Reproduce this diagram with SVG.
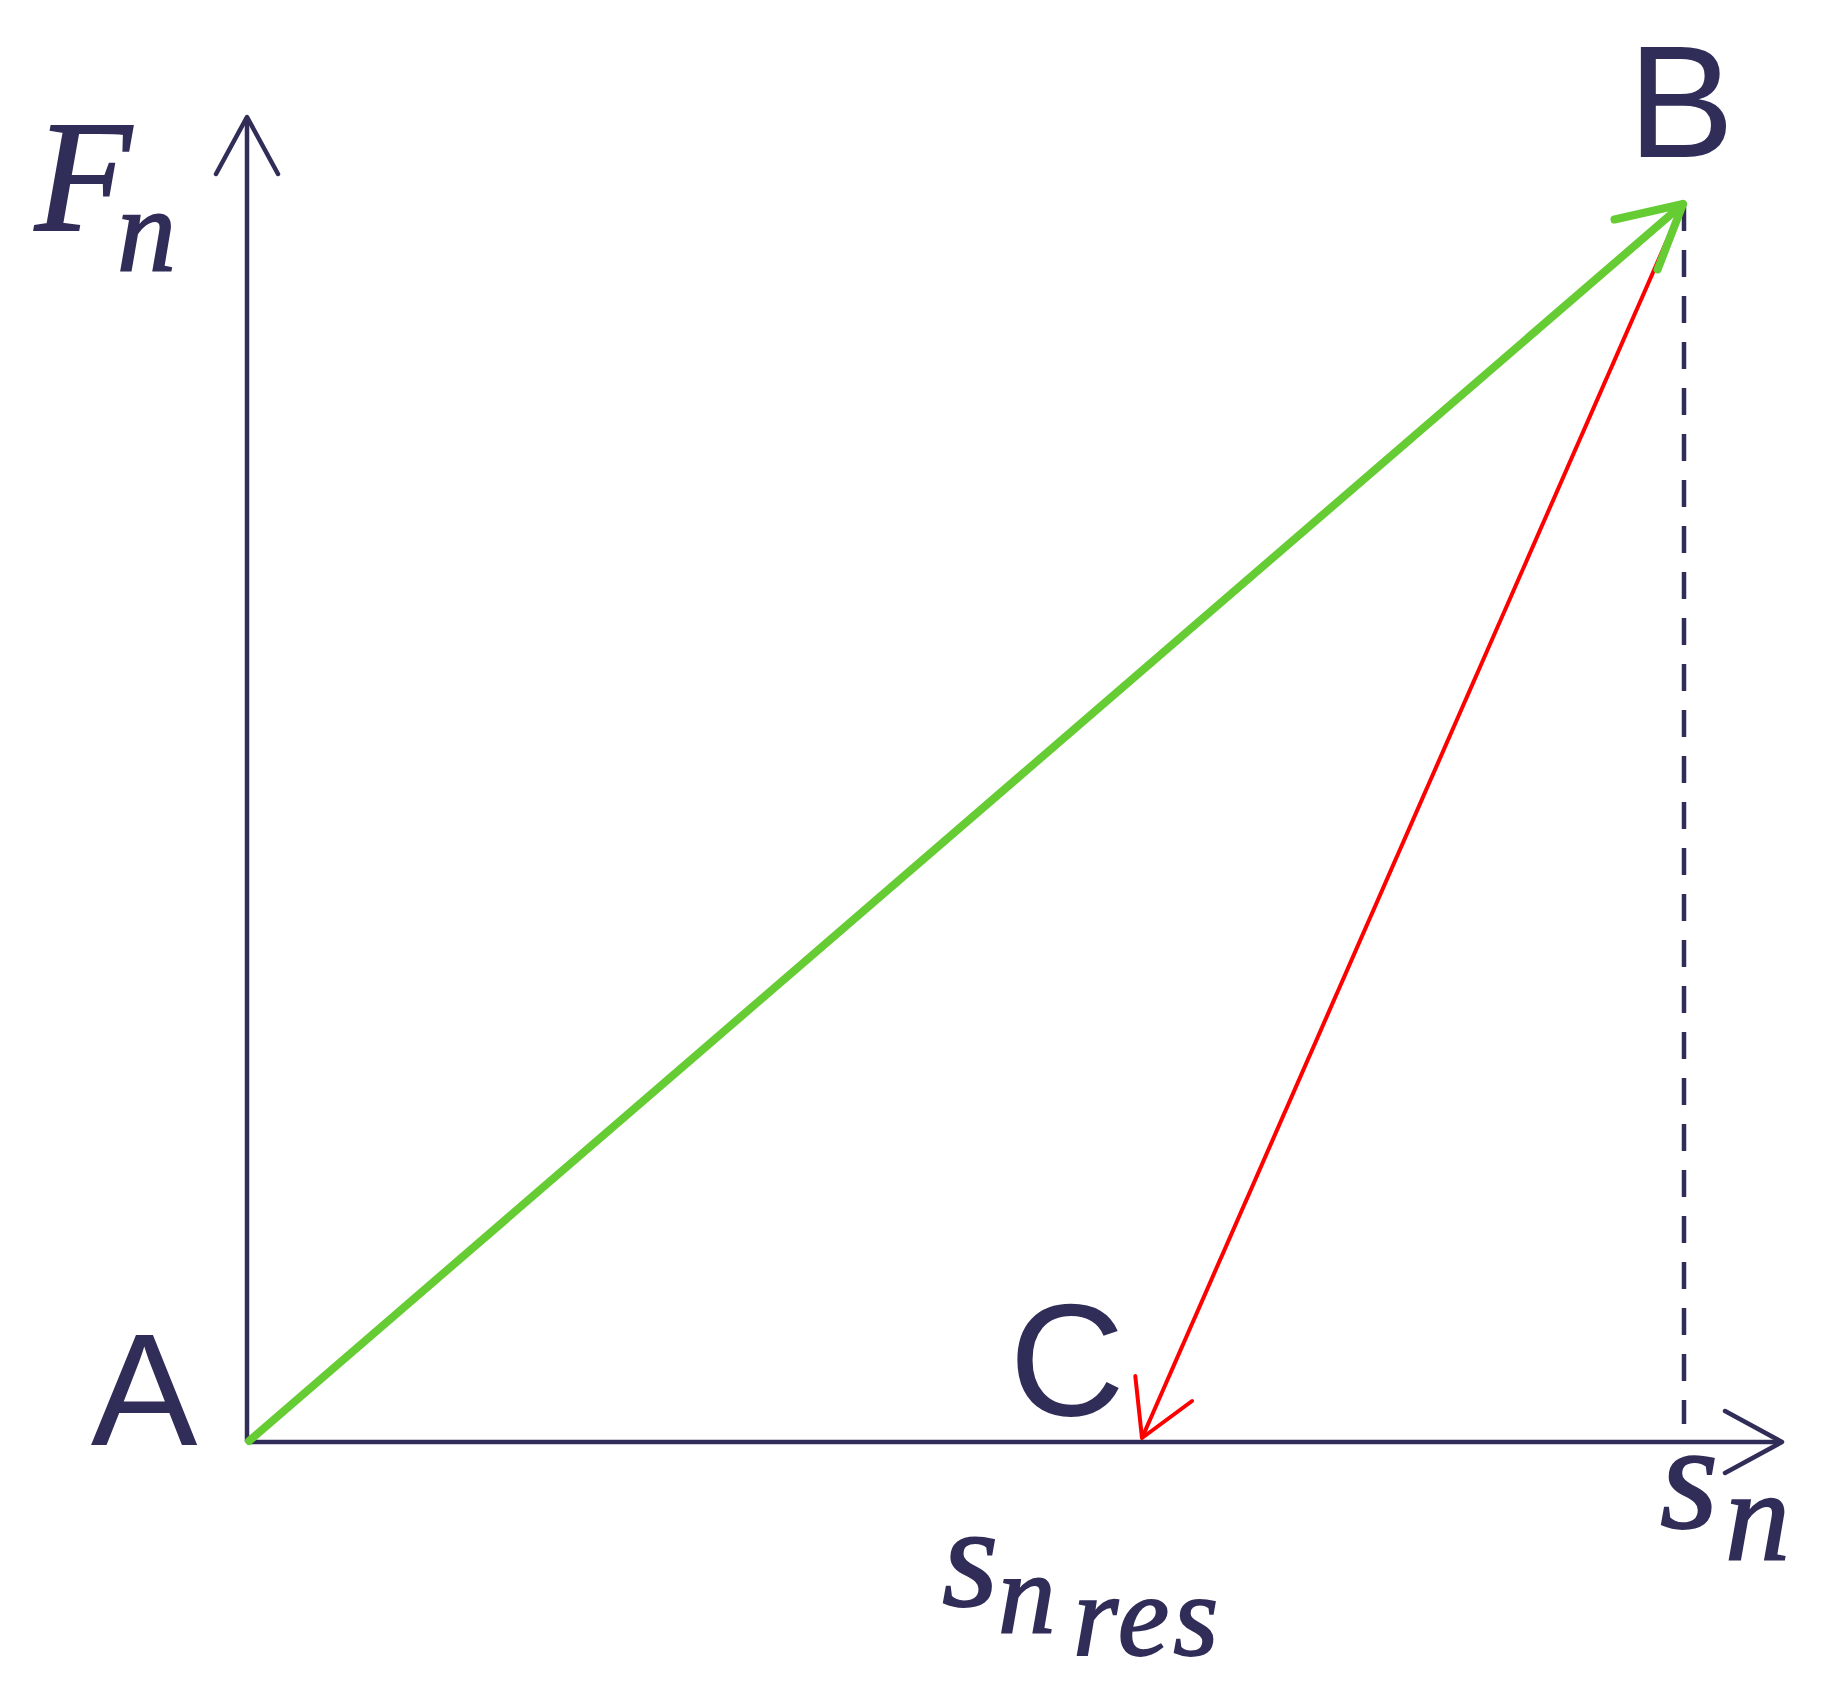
<svg xmlns="http://www.w3.org/2000/svg" width="1840" height="1688" viewBox="0 0 1840 1688">
<defs>
<style>
.ax{stroke:#302d58;stroke-width:4.5;fill:none}
.dash{stroke:#302d58;stroke-width:4.5;stroke-dasharray:27 19;fill:none}
.lbl{font-family:"Liberation Sans",Arial,sans-serif;font-size:160px;fill:#302d58}
.math{font-family:"Liberation Serif","Times New Roman",serif;font-style:italic;fill:#302d58;stroke:#302d58;stroke-width:1.8px}
</style>
<marker id="axArrow" markerUnits="userSpaceOnUse" viewBox="-80 -50 100 100" markerWidth="100" markerHeight="100" refX="0" refY="0" orient="auto" overflow="visible">
<path d="M-57,-31 L0,0 L-57,31" fill="none" stroke="#302d58" stroke-width="4.5" stroke-linecap="round" stroke-linejoin="round"/>
</marker>
<marker id="greenArrow" markerUnits="userSpaceOnUse" viewBox="-80 -50 100 100" markerWidth="100" markerHeight="100" refX="0" refY="0" orient="auto" overflow="visible">
<path d="M-62,-33 L0,0 L-62,33" fill="none" stroke="#66cc33" stroke-width="8" stroke-linecap="round" stroke-linejoin="round"/>
</marker>
<marker id="redArrow" markerUnits="userSpaceOnUse" viewBox="-80 -50 100 100" markerWidth="100" markerHeight="100" refX="0" refY="0" orient="auto" overflow="visible">
<path d="M-54,-31 L0,0 L-54,31" fill="none" stroke="#ff0000" stroke-width="4" stroke-linecap="round" stroke-linejoin="round"/>
</marker>
</defs>
<rect width="1840" height="1688" fill="#ffffff"/>
<g id="axes">
<line id="y-axis" class="ax" x1="247" y1="1442" x2="247" y2="117" marker-end="url(#axArrow)"/>
<line id="x-axis" class="ax" x1="247" y1="1442" x2="1782" y2="1442" marker-end="url(#axArrow)"/>
</g>
<g id="connectors">
<line id="dashed-B" class="dash" x1="1684" y1="204" x2="1684" y2="1424"/>
<line id="red-BC" x1="1683" y1="204" x2="1142" y2="1438" stroke="#ff0000" stroke-width="4" marker-end="url(#redArrow)"/>
<line id="green-AB" x1="249" y1="1441" x2="1683" y2="204" stroke="#66cc33" stroke-width="8" stroke-linecap="round" marker-end="url(#greenArrow)"/>
</g>
<g id="node-A"><text class="lbl" x="144" y="1445" text-anchor="middle">A</text></g>
<g id="node-B"><text class="lbl" x="1681" y="157" text-anchor="middle">B</text></g>
<g id="node-C"><text class="lbl" x="1067" y="1415" text-anchor="middle">C</text></g>
<g id="label-Fn">
<text class="math" x="35" y="230" font-size="158">F</text>
<text class="math" x="117" y="270" font-size="118">n</text>
</g>
<g id="label-sn">
<text class="math" x="1660" y="1528" font-size="150">s</text>
<text class="math" x="1725" y="1560" font-size="130">n</text>
</g>
<g id="label-snres">
<text class="math" x="942" y="1606" font-size="145">s</text>
<text class="math" x="998" y="1633" font-size="115">n</text>
<text class="math" x="1073" y="1655" font-size="116" letter-spacing="4">res</text>
</g>
</svg>
